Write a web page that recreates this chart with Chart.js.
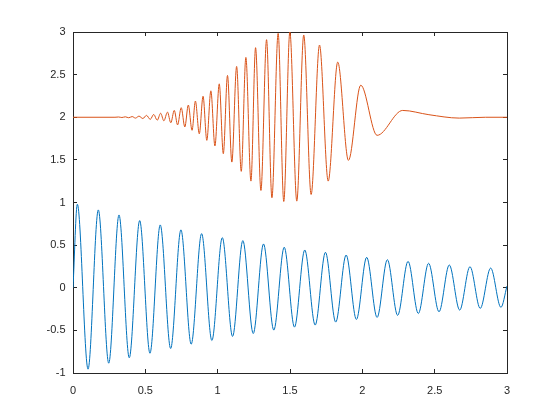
<!DOCTYPE html>
<html>
<head>
<meta charset="utf-8">
<script src="https://cdn.jsdelivr.net/npm/chart.js@4/dist/chart.umd.min.js"></script>
<style>
  html, body { margin: 0; padding: 0; background: #fff; }
  #wrap { width: 560px; height: 420px; }
</style>
</head>
<body>
<div id="wrap"><canvas id="myChart" width="560" height="420"></canvas></div>
<script>
// damped sine: peaks / troughs
var blueX = [0, 0.03, 0.104, 0.175, 0.247, 0.318, 0.389, 0.461, 0.532, 0.603, 0.675,
  0.746, 0.817, 0.889, 0.96, 1.032, 1.103, 1.174, 1.246, 1.317, 1.388, 1.46,
  1.531, 1.602, 1.674, 1.745, 1.816, 1.888, 1.959, 2.03, 2.102, 2.173, 2.244,
  2.316, 2.387, 2.458, 2.53, 2.601, 2.673, 2.744, 2.815, 2.887, 2.958, 3.0];
var blueY = [0, 0.98, -0.955, 0.913, -0.885, 0.854, -0.822, 0.788, -0.768, 0.737, -0.713,
  0.679, -0.662, 0.635, -0.619, 0.588, -0.571, 0.553, -0.537, 0.514, -0.497, 0.475,
  -0.462, 0.443, -0.438, 0.416, -0.403, 0.384, -0.372, 0.357, -0.348, 0.329, -0.324,
  0.31, -0.302, 0.287, -0.282, 0.267, -0.262, 0.247, -0.242, 0.231, -0.23, 0.02];

// chirp around 2
var orangeX = [0, 0.29, 0.315, 0.338, 0.362, 0.385, 0.409, 0.432, 0.456, 0.483, 0.508,
  0.534, 0.558, 0.582, 0.606, 0.628, 0.653, 0.676, 0.70, 0.723, 0.748, 0.773,
  0.797, 0.823, 0.846, 0.873, 0.899, 0.925, 0.953, 0.981, 1.011, 1.039, 1.068,
  1.098, 1.131, 1.163, 1.195, 1.23, 1.262, 1.299, 1.338, 1.375, 1.418, 1.457,
  1.499, 1.547, 1.595, 1.646, 1.704, 1.764, 1.83, 1.904, 1.989, 2.102, 2.279,
  2.46, 2.67, 2.85, 3.0];
var orangeY = [2, 2, 2.003, 1.997, 2.005, 1.994, 2.008, 1.99, 2.013, 1.985, 2.022,
  1.975, 2.033, 1.965, 2.047, 1.958, 2.06, 1.935, 2.08, 1.91, 2.112, 1.886,
  2.143, 1.847, 2.19, 1.805, 2.247, 1.729, 2.31, 1.663, 2.392, 1.573, 2.49,
  1.474, 2.596, 1.365, 2.702, 1.251, 2.816, 1.141, 2.91, 1.055, 2.984, 1.012,
  3.0, 1.016, 2.965, 1.094, 2.847, 1.251, 2.647, 1.494, 2.376, 1.788, 2.08,
  2.03, 1.99, 2.0, 2.0];

var xTicks = [0, 0.5, 1, 1.5, 2, 2.5, 3];
var yTicks = [-1, -0.5, 0, 0.5, 1, 1.5, 2, 2.5, 3];

function toPoints(xs, ys) {
  var pts = [];
  for (var i = 0; i < xs.length; i++) {
    pts.push({ x: xs[i], y: ys[i] });
  }
  return pts;
}

var axisColor = '#262626';
var tickFont = { family: 'Liberation Sans, Arial, Helvetica, sans-serif', size: 11 };

function fixTicks(list) {
  return function (scale) {
    scale.ticks = list.map(function (v) { return { value: v }; });
  };
}

function boxAxis(pos, min, max, list, showLabels) {
  var horiz = (pos === 'bottom' || pos === 'top');
  return {
    type: 'linear',
    position: pos,
    min: min,
    max: max,
    afterBuildTicks: fixTicks(list),
    afterFit: function (scale) {
      if (horiz) { scale.height = showLabels ? 47 : 0; }
      else { scale.width = showLabels ? 60 : 0; }
    },
    border: { display: true, color: axisColor, width: 1 },
    grid: {
      drawOnChartArea: false,
      drawTicks: true,
      tickLength: -4,
      color: axisColor,
      lineWidth: 1
    },
    ticks: {
      display: showLabels,
      color: axisColor,
      font: tickFont,
      padding: horiz ? 15 : 11.5,
      maxRotation: 0,
      autoSkip: false,
      callback: function (v) { return String(v); }
    }
  };
}

new Chart('myChart', {
  type: 'scatter',
  data: {
    datasets: [{
      data: toPoints(blueX, blueY),
      borderColor: '#0072BD',
      borderWidth: 1,
      showLine: true,
      pointRadius: 0,
      cubicInterpolationMode: 'monotone'
    }, {
      data: toPoints(orangeX, orangeY),
      borderColor: '#D95319',
      borderWidth: 1,
      showLine: true,
      pointRadius: 0,
      cubicInterpolationMode: 'monotone'
    }]
  },
  options: {
    responsive: false,
    animation: false,
    layout: { padding: { left: 13, right: 53, top: 32, bottom: 0 } },
    plugins: {
      legend: { display: false },
      tooltip: { enabled: false }
    },
    scales: {
      x: boxAxis('bottom', 0, 3, xTicks, true),
      y: boxAxis('left', -1, 3, yTicks, true),
      x2: boxAxis('top', 0, 3, xTicks, false),
      y2: boxAxis('right', -1, 3, yTicks, false)
    }
  }
});
</script>
</body>
</html>
